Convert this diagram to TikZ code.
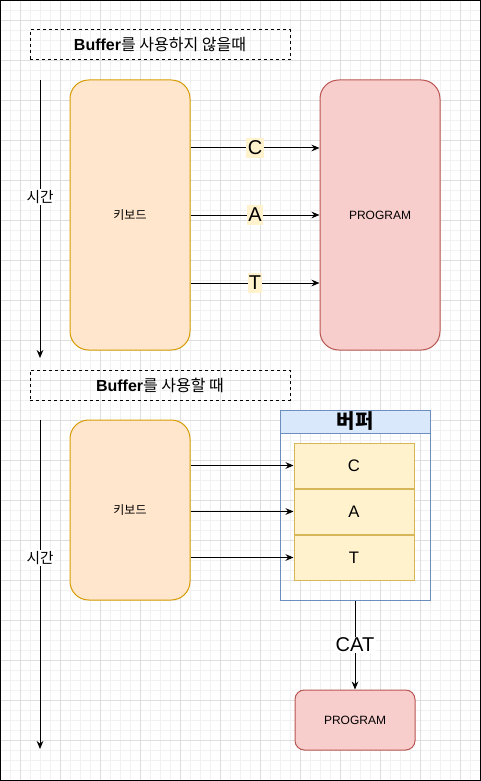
\documentclass[tikz,border=0pt]{standalone}
\usepackage{fontspec}
\setmainfont{Liberation Sans}
\newfontfamily\kr{Noto Sans CJK KR}
\usetikzlibrary{arrows.meta, positioning}
\definecolor{kbfill}{HTML}{FFE6CC}
\definecolor{kbline}{HTML}{D79B00}
\definecolor{pgfill}{HTML}{F8CECC}
\definecolor{pgline}{HTML}{B85450}
\definecolor{buffill}{HTML}{DAE8FC}
\definecolor{bufline}{HTML}{6C8EBF}
\definecolor{cellfill}{HTML}{FFF2CC}
\definecolor{cellline}{HTML}{D6B656}
\definecolor{gridminor}{HTML}{F1F1F1}
\definecolor{gridmajor}{HTML}{DEDEDE}

\begin{document}
\begin{tikzpicture}[x=0.75pt,y=-0.75pt,>={Stealth[length=6pt,width=5pt]},line width=0.75pt,
                    keybox/.style={draw=kbline,fill=kbfill,rounded corners=14pt,minimum width=90pt,inner sep=0pt,font=\kr\fontsize{9pt}{11pt}\selectfont},
                    progbox/.style={draw=pgline,fill=pgfill,rounded corners=14pt,minimum width=90pt,inner sep=0pt,font=\fontsize{9pt}{11pt}\selectfont},
                    titlebox/.style={draw,dash pattern=on 2.25pt off 2.25pt,minimum width=195pt,minimum height=22.5pt,inner sep=0pt,font=\fontsize{12pt}{14pt}\selectfont},
                    cellbox/.style={draw=cellline,fill=cellfill,minimum width=90pt,minimum height=33.75pt,inner sep=0pt,font=\fontsize{12.5pt}{15pt}\selectfont},
                    letter/.style={fill=cellfill,inner xsep=1pt,inner ysep=2.5pt,font=\fontsize{15pt}{17pt}\selectfont},
                    timelabel/.style={fill=white,inner sep=1pt,font=\kr\fontsize{11pt}{13pt}\selectfont}]
                    \useasboundingbox (0,0) rectangle (481,781);
                    % grid
                    \foreach \g in {0,10,...,480} \draw[gridminor,line width=0.5pt] (\g,0) -- (\g,781);
                    \foreach \g in {0,10,...,780} \draw[gridminor,line width=0.5pt] (0,\g) -- (481,\g);
                    \foreach \g in {20,60,...,460} \draw[gridmajor,line width=0.5pt] (\g,0) -- (\g,781);
                    \foreach \g in {20,60,...,780} \draw[gridmajor,line width=0.5pt] (0,\g) -- (481,\g);
                    \draw[black] (0.5,0.5) rectangle (480,780);

                    % without buffer
                    \node[titlebox] (title1) at (160,45) {\textbf{Buffer}{\kr 를 사용하지 않을때}};
                    \node[keybox,minimum height=202.5pt] (kb1) at (130,215) {키보드};
                    \node[progbox,minimum height=202.5pt] (prog1) at (380,215) {PROGRAM};
                    \coordinate (t1s) at (40,80);
                    \coordinate (t1e) at (40,358);
                    \draw[->] (t1s) -- node[pos=0.42,timelabel] {시간} (t1e);
                    \path[->]
                    ([yshift=50.25pt]kb1.east) edge node[letter] {C} ([yshift=50.25pt]prog1.west)
                    (kb1.east) edge node[letter] {A} (prog1.west)
                    ([yshift=-51pt]kb1.east) edge node[letter] {T} ([yshift=-51pt]prog1.west)
                    ;

                    % with buffer
                    \node[titlebox] (title2) at (160,385) {\textbf{Buffer}{\kr 를 사용할 때}};
                    \node[keybox,minimum height=135pt] (kb2) at (130,510) {키보드};
                    \node[draw=bufline,minimum width=112.5pt,minimum height=142.5pt] (buf) at (355,505) {};
                    \node[draw=bufline,fill=buffill,minimum width=112.5pt,minimum height=17.25pt,inner sep=0pt,font=\kr\bfseries\fontsize{15pt}{17pt}\selectfont] (bufhead) at (355,421.5) {버퍼};
                    \node[cellbox] (cellC) at (354,465.5) {C};
                    \node[cellbox,below=0pt of cellC] (cellA) {A};
                    \node[cellbox,below=0pt of cellA] (cellT) {T};
                    \node[progbox,rounded corners=7pt,minimum height=45pt] (prog2) at (355,720) {PROGRAM};
                    \coordinate (t2s) at (40,420);
                    \coordinate (t2e) at (40,749);
                    \draw[->] (t2s) -- node[pos=0.42,timelabel] {시간} (t2e);
                    \path[->]
                    (kb2.east |- cellC.west) edge (cellC.west)
                    (kb2.east |- cellA.west) edge (cellA.west)
                    (kb2.east |- cellT.west) edge (cellT.west)
                    (buf.south) edge node[fill=white,inner sep=1pt,font=\fontsize{15pt}{17pt}\selectfont] {CAT} (prog2.north)
                    ;
                \end{tikzpicture}
\end{document}
